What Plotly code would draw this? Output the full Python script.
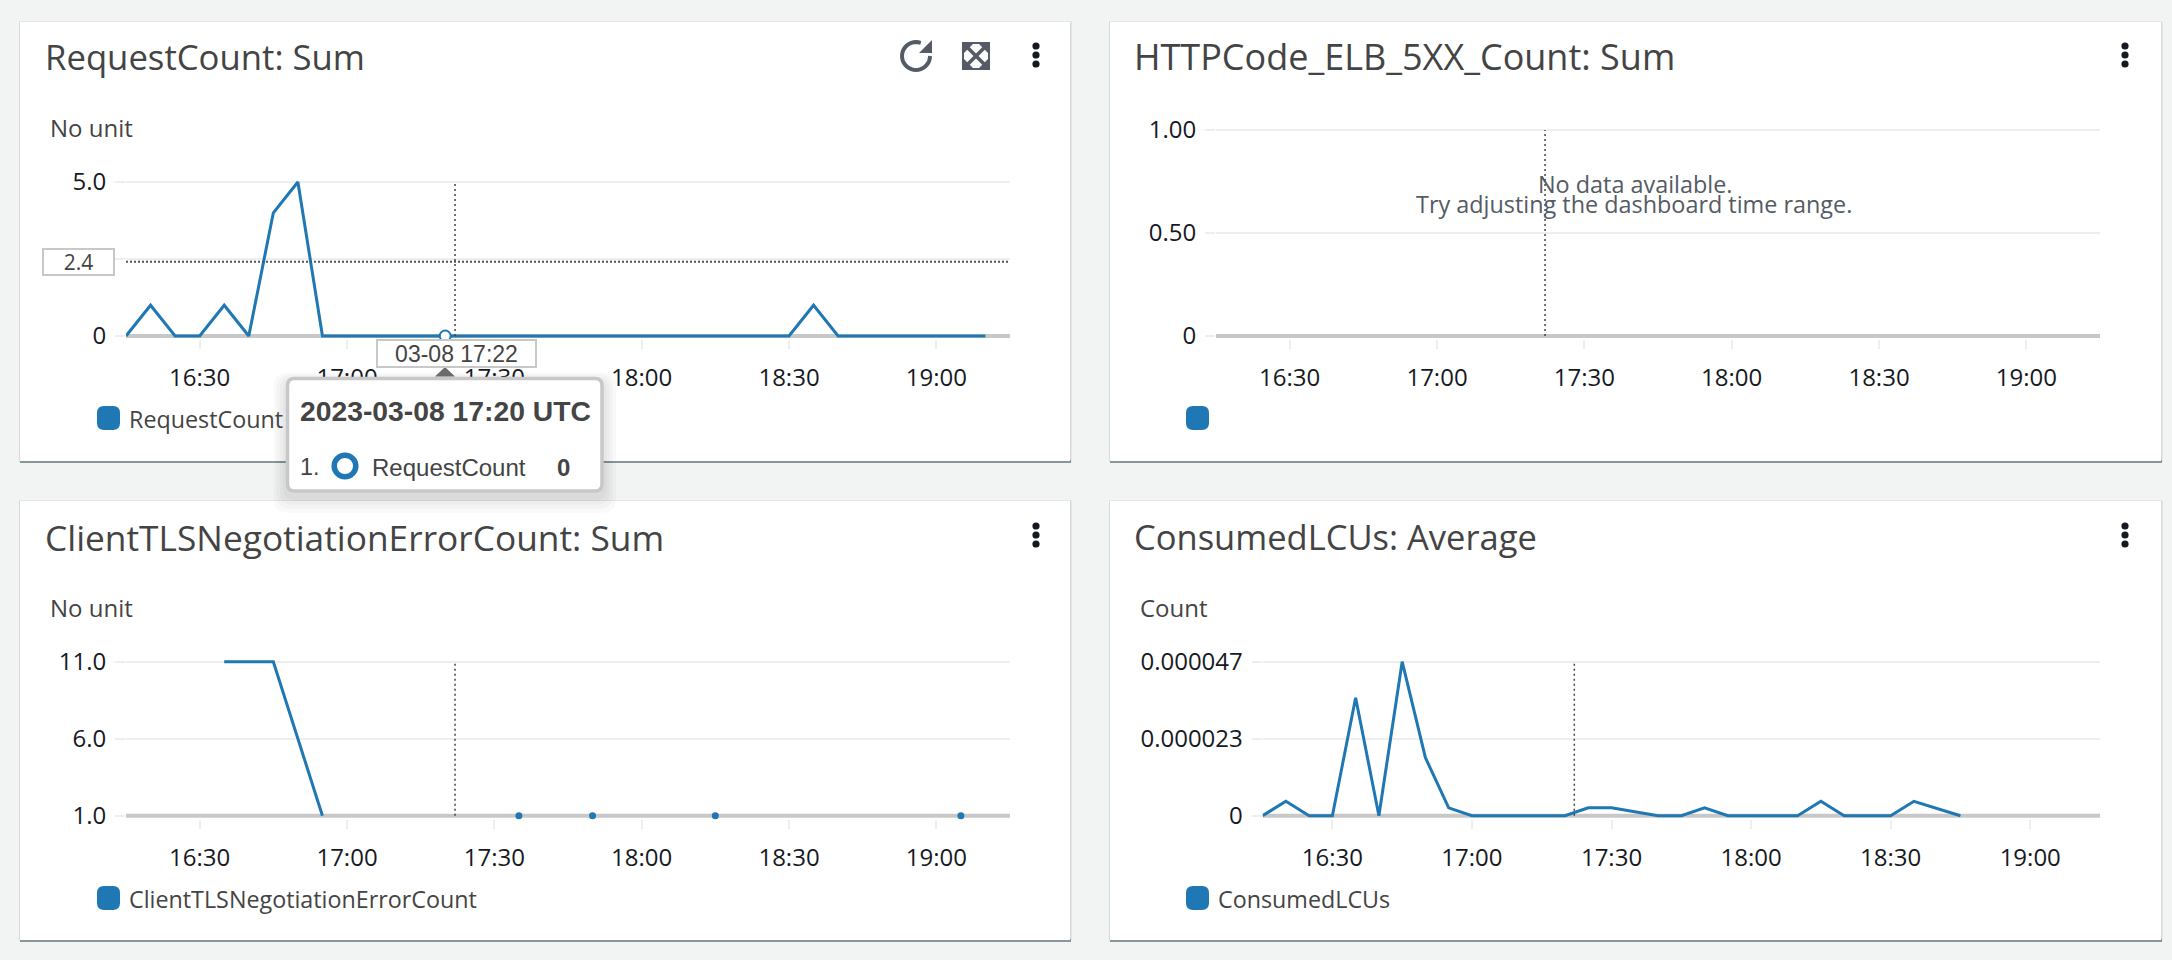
import math
import plotly.graph_objects as go

W, H = 2172, 960
DAY = "2023-03-08 "

# ---- data ----
tick_times = ["16:30", "17:00", "17:30", "18:00", "18:30", "19:00"]
x_range = ["16:15", "19:15"]
cursor_time = "17:22"
selected_time = "17:20"
selected_value = 0
threshold_value = 2.41

request_times = ["16:15", "16:20", "16:25", "16:30", "16:35", "16:40", "16:45", "16:50", "16:55",
                 "17:00", "17:05", "17:10", "17:15", "17:20", "17:25", "17:30", "17:35", "17:40",
                 "17:45", "17:50", "17:55", "18:00", "18:05", "18:10", "18:15", "18:20", "18:25",
                 "18:30", "18:35", "18:40", "18:45", "18:50", "18:55", "19:00", "19:05", "19:10"]
request_values = [0, 1, 0, 0, 1, 0, 4, 5, 0,
                  0, 0, 0, 0, 0, 0, 0, 0, 0,
                  0, 0, 0, 0, 0, 0, 0, 0, 0,
                  0, 1, 0, 0, 0, 0, 0, 0, 0]

tls_times = ["16:35", "16:40", "16:45", "16:55"]
tls_values = [11, 11, 11, 1]
tls_dot_times = ["17:35", "17:50", "18:15", "19:05"]
tls_dot_values = [1, 1, 1, 1]

lcu_times = ["16:15", "16:20", "16:25", "16:30", "16:35", "16:40", "16:45", "16:50", "16:55",
             "17:00", "17:05", "17:10", "17:15", "17:20", "17:25", "17:30", "17:35", "17:40",
             "17:45", "17:50", "17:55", "18:00", "18:05", "18:10", "18:15", "18:20", "18:25",
             "18:30", "18:35", "18:40", "18:45"]
lcu_values = [0, 4.4e-6, 0, 0, 3.6e-5, 0, 4.7e-5, 1.77e-5, 2.4e-6,
              0, 0, 0, 0, 0, 2.4e-6, 2.4e-6, 1.2e-6, 0,
              0, 2.4e-6, 0, 0, 0, 0, 4.4e-6, 0, 0,
              0, 4.4e-6, 2.2e-6, 0]

request_yticks = [0, 2.5, 5]
request_ylabels = ["0", "", "5.0"]
elb_yticks = [0, 0.5, 1]
elb_ylabels = ["0", "0.50", "1.00"]
tls_yticks = [1, 6, 11]
tls_ylabels = ["1.0", "6.0", "11.0"]
lcu_yticks = [0, 2.35e-5, 4.7e-5]
lcu_ylabels = ["0", "0.000023", "0.000047"]

titles = ["RequestCount: Sum", "HTTPCode_ELB_5XX_Count: Sum",
          "ClientTLSNegotiationErrorCount: Sum", "ConsumedLCUs: Average"]
legend_names = ["RequestCount", "", "ClientTLSNegotiationErrorCount", "ConsumedLCUs"]
units = ["No unit", "", "No unit", "Count"]

# ---- styles ----
BG = "#f2f3f3"
BLUE = "#1f77b4"
GRID = "#eeeeee"
ZERO = "#c8c8c8"
TEXT = "#444444"
TICK = "#16191f"
ICON = "#545b64"
FONT = "Open Sans"
SANS = "Liberation Sans"
PAD = 3  # extra px round each plot area, so that lines on the range ends are not cut in half
title_sizes = [34.7, 36, 35.3, 34.5]


def X(p):
    return p / W


def Y(p):
    return 1 - p / H


def t(s):
    return DAY + s


fig = go.Figure()
shapes, annos = [], []


def paper_shape(**kw):
    kw.setdefault("xref", "paper")
    kw.setdefault("yref", "paper")
    shapes.append(kw)


def rect(x0, y0, x1, y1, fill, line=None, lw=0, layer="below", opacity=1):
    paper_shape(type="rect", x0=X(x0), x1=X(x1), y0=Y(y1), y1=Y(y0), fillcolor=fill,
                line=dict(color=line, width=lw) if line else dict(width=0), layer=layer, opacity=opacity)


def rrect(x0, y0, x1, y1, r, fill, line=None, lw=0, layer="above", opacity=1):
    p = (f"M{X(x0+r)},{Y(y0)} L{X(x1-r)},{Y(y0)} Q{X(x1)},{Y(y0)} {X(x1)},{Y(y0+r)} "
         f"L{X(x1)},{Y(y1-r)} Q{X(x1)},{Y(y1)} {X(x1-r)},{Y(y1)} "
         f"L{X(x0+r)},{Y(y1)} Q{X(x0)},{Y(y1)} {X(x0)},{Y(y1-r)} "
         f"L{X(x0)},{Y(y0+r)} Q{X(x0)},{Y(y0)} {X(x0+r)},{Y(y0)} Z")
    paper_shape(type="path", path=p, fillcolor=fill,
                line=dict(color=line, width=lw) if line else dict(width=0), layer=layer, opacity=opacity)


def poly(pts, fill=None, line=None, lw=0, close=True, layer="above"):
    p = "M" + " L".join(f"{X(a)},{Y(b)}" for a, b in pts) + (" Z" if close else "")
    paper_shape(type="path", path=p, fillcolor=fill if fill else "rgba(0,0,0,0)",
                line=dict(color=line, width=lw) if line else dict(width=0), layer=layer)


def circle(cx, cy, r, fill, line=None, lw=0, layer="above"):
    paper_shape(type="circle", x0=X(cx-r), x1=X(cx+r), y0=Y(cy+r), y1=Y(cy-r), fillcolor=fill,
                line=dict(color=line, width=lw) if line else dict(width=0), layer=layer)


def text(x, y, s, size, color=TEXT, font=FONT, anchor="left", **kw):
    annos.append(dict(xref="paper", yref="paper", x=X(x), y=Y(y), text=s, showarrow=False,
                      xanchor=anchor, yanchor="middle",
                      font=dict(family=font, size=size, color=color), **kw))


# ---- cards ----
cards = [(20, 22, 1070, 461), (1110, 22, 2161, 461), (20, 501, 1070, 940), (1110, 501, 2161, 940)]
for x0, y0, x1, y1 in cards:
    rect(x0 - 1, y0 - 0.5, x1 + 1.5, y1 + 0.5, "#d5dbdb")
    rect(x0, y1 - 1, x1 + 1, y1 + 2, "#87979a")
    rect(x0, y0, x1, y1, "#ffffff")

# ---- subplots: left, right, top, bottom px ----
panels = [
    (126, 1010, 182, 336, [0, 5], request_yticks, request_ylabels),
    (1216, 2100, 130, 336, [0, 1], elb_yticks, elb_ylabels),
    (126, 1010, 661.7, 815.7, [1, 11], tls_yticks, tls_ylabels),
    (1262.6, 2100, 661.7, 815.7, [0, 4.7e-5], lcu_yticks, lcu_ylabels),
]

series = [
    [(request_times, request_values)],
    [([], [])],
    [(tls_times, tls_values)],
    [(lcu_times, lcu_values)],
]

layout_axes = {}
for i, (l, r, top, bot, yr, yt, yl) in enumerate(panels):
    n = i + 1
    sx = "" if n == 1 else str(n)
    unit_pad = PAD * (yr[1] - yr[0]) / (bot - top)
    layout_axes[f"xaxis{sx}"] = dict(
        domain=[X(l), X(r)], anchor=f"y{sx}", type="date",
        range=[t(x_range[0]), t(x_range[1])],
        tickmode="array", tickvals=[t(v) for v in tick_times], ticktext=tick_times,
        showgrid=False, zeroline=False, showline=False,
        ticks="outside", ticklen=9, tickwidth=2, tickcolor=GRID,
        tickfont=dict(family=FONT, size=24, color=TICK), ticklabelstandoff=8)
    layout_axes[f"yaxis{sx}"] = dict(
        domain=[Y(bot + PAD), Y(top - PAD)], anchor=f"x{sx}", range=[yr[0] - unit_pad, yr[1] + unit_pad],
        tickmode="array", tickvals=yt, ticktext=yl,
        showgrid=True, gridcolor=GRID, gridwidth=2, zeroline=False, showline=False,
        ticks="outside", ticklen=10, tickwidth=2, tickcolor=GRID,
        tickfont=dict(family=FONT, size=24, color=TICK), ticklabelstandoff=4)
    xa, ya = f"x{sx}", f"y{sx}"
    # heavy baseline
    fig.add_trace(go.Scatter(x=[t(v) for v in x_range], y=[yr[0], yr[0]], mode="lines", xaxis=xa, yaxis=ya,
                             cliponaxis=False, showlegend=False, line=dict(color=ZERO, width=4)))
    # cursor line
    shapes.append(dict(type="line", xref=xa, yref=ya, x0=t(cursor_time), x1=t(cursor_time),
                       y0=yr[0], y1=yr[1], line=dict(color="#444444", width=1.5, dash="2px,3px"),
                       layer="above"))
    for xs, ys in series[i]:
        fig.add_trace(go.Scatter(x=[t(v) for v in xs], y=ys, mode="lines", xaxis=xa, yaxis=ya,
                                 name=legend_names[i], cliponaxis=False, showlegend=False,
                                 line=dict(color=BLUE, width=3)))

# isolated error-count points
fig.add_trace(go.Scatter(x=[t(v) for v in tls_dot_times], y=tls_dot_values, mode="markers",
                         xaxis="x3", yaxis="y3", cliponaxis=False, showlegend=False,
                         marker=dict(color=BLUE, size=7)))
# hovered point
fig.add_trace(go.Scatter(x=[t(selected_time)], y=[selected_value], mode="markers", xaxis="x", yaxis="y",
                         cliponaxis=False, showlegend=False,
                         marker=dict(color="#ffffff", size=11, line=dict(color=BLUE, width=2))))
# threshold line
shapes.append(dict(type="line", xref="x domain", yref="y", x0=0, x1=1, y0=threshold_value, y1=threshold_value,
                   line=dict(color="#555555", width=2, dash="2px,2px"), layer="above"))

# ---- titles, units, legends ----
title_pos = [(42.5, 56), (1132, 56), (42.5, 536.5), (1132, 536.5)]
unit_pos = [(48, 127.5), None, (48, 607.5), (1137.5, 607.5)]
swatch_pos = [(97, 406), (1186, 406), (97, 886), (1186, 886)]
for i in range(4):
    text(title_pos[i][0], title_pos[i][1], titles[i], title_sizes[i])
    if unit_pos[i]:
        text(unit_pos[i][0], unit_pos[i][1], units[i], 24)
    sx, sy = swatch_pos[i]
    rrect(sx, sy, sx + 23, sy + 24, 7, BLUE, layer="above")
    if legend_names[i]:
        text(sx + 30, sy + 13, legend_names[i], 23.3)

# no-data message
text(1634.5, 184, "No data available.", 23.4, color=ICON, anchor="center")
text(1634, 204, "Try adjusting the dashboard time range.", 23.4, color=ICON, anchor="center")

# ---- kebab menus ----
for cx, base in [(1036, 46), (2125, 46), (1036, 526), (2125, 526)]:
    for k in range(3):
        circle(cx, base + 9 * k, 3.6, "#16191f")

# ---- refresh icon ----
arc = [(916 + 14 * math.cos(math.radians(a)), 56 + 14 * math.sin(math.radians(a))) for a in range(0, 300, 10)]
poly(arc, line=ICON, lw=4, close=False)
poly([(932, 40), (932, 53), (919, 53)], fill=ICON)

# ---- full-screen icon ----
rx0, ry0, rx1, ry1 = 962, 42, 990, 70
poly([(rx0, ry0), (rx0 + 13, ry0), (rx0, ry0 + 13)], fill=ICON)
poly([(rx1, ry0), (rx1 - 13, ry0), (rx1, ry0 + 13)], fill=ICON)
poly([(rx0, ry1), (rx0 + 13, ry1), (rx0, ry1 - 13)], fill=ICON)
poly([(rx1, ry1), (rx1 - 13, ry1), (rx1, ry1 - 13)], fill=ICON)
poly([(rx0 + 1, ry0), (rx0 + 1, ry1)], line=ICON, lw=2, close=False)
poly([(rx1 - 1, ry0), (rx1 - 1, ry1)], line=ICON, lw=2, close=False)
poly([(rx0, ry0 + 1), (rx1, ry0 + 1)], line=ICON, lw=2, close=False)
poly([(rx0, ry1 - 1), (rx1, ry1 - 1)], line=ICON, lw=2, close=False)
poly([(rx0 + 3, ry0 + 3), (rx1 - 3, ry1 - 3)], line=ICON, lw=3.5, close=False)
poly([(rx1 - 3, ry0 + 3), (rx0 + 3, ry1 - 3)], line=ICON, lw=3.5, close=False)

# ---- hover tooltip ----
for grow, drop in [(12, 8), (9, 7), (6, 6), (3, 5)]:
    rrect(285.7 - grow, 376.7 - grow + drop, 604 + grow, 492.7 + grow + drop, 14, "#000000", opacity=0.025)
rrect(287.5, 378.5, 602, 491, 7, "#ffffff", line="#c8c8c8", lw=3.5)
poly([(445, 367), (435, 376.5), (455, 376.5)], fill="#6b6b6b")

text(297.5, 411, "<b>2023-03-08 17:20 UTC</b>", 28.3, font=SANS)
text(298, 467, "1.", 23.5, font=SANS)
circle(345, 466, 10.8, "#ffffff", line=BLUE, lw=5.5)
text(370, 467, "RequestCount", 24, font=SANS)
text(563, 467, "<b>0</b>", 24, font=SANS, anchor="center")

# cursor time box
annos.append(dict(xref="paper", yref="paper", x=X(456.2), y=Y(353.5), text="03-08 17:22", showarrow=False,
                  xanchor="center", yanchor="middle", width=157, height=25,
                  bgcolor="#ffffff", bordercolor="#c8c8c8", borderwidth=2, borderpad=0,
                  font=dict(family=SANS, size=23, color=TEXT)))
# threshold value box
annos.append(dict(xref="paper", yref="paper", x=X(78), y=Y(262), text="2.4", showarrow=False,
                  xanchor="center", yanchor="middle", width=69, height=24,
                  bgcolor="#ffffff", bordercolor="#c8c8c8", borderwidth=2, borderpad=0,
                  font=dict(family=FONT, size=21, color=TEXT)))

fig.update_layout(width=W, height=H, margin=dict(l=0, r=0, t=0, b=0, pad=0, autoexpand=False), autosize=False,
                  paper_bgcolor=BG, plot_bgcolor="rgba(0,0,0,0)", showlegend=False,
                  shapes=shapes, annotations=annos, hovermode=False, **layout_axes)

fig.write_html("out.html", config=dict(displayModeBar=False, responsive=False),
               post_script="document.body.style.margin='0';document.body.style.overflow='hidden';")
